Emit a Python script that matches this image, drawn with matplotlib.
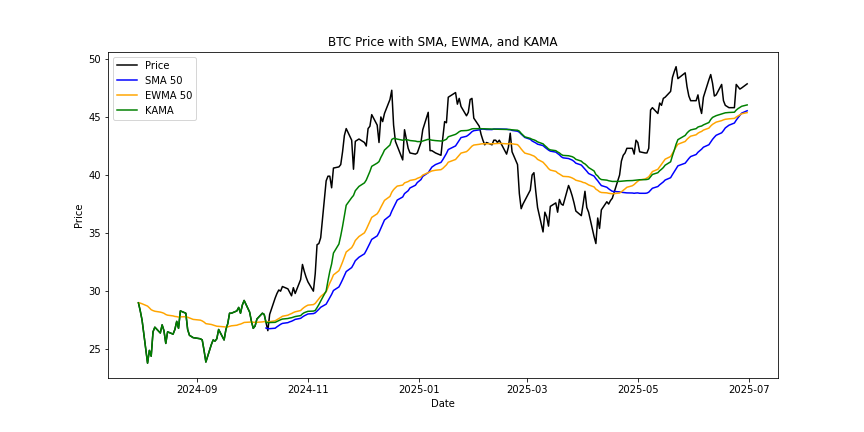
"""BTC price with moving averages"""

import numpy as np
import pandas as pd
import matplotlib
matplotlib.use('Agg')
import matplotlib.pyplot as plt

# NYSE closed days in the window
holidays = ['2024-09-02', '2024-11-28', '2024-12-25', '2025-01-01', '2025-01-09',
            '2025-01-20', '2025-02-17', '2025-04-18', '2025-05-26', '2025-06-19']

# closing prices, one list per month
price_jul = [29.0]
price_aug = [28.3, 27.5, 23.8, 24.9, 24.4, 26.5, 26.9, 26.4, 27.1, 26.6, 25.5,
             26.5, 26.3, 26.7, 27.4, 26.8, 28.3, 28.1, 26.7, 26.2, 26.1, 26.0]
price_sep = [25.9, 25.8, 24.9, 23.9, 25.4, 25.8, 25.7, 25.9, 26.7, 25.8,
             26.7, 27.2, 28.1, 28.1, 28.3, 28.6, 28.1, 28.8, 29.2, 28.2]
price_oct = [27.4, 26.8, 27.0, 27.6, 28.1, 28.0, 27.3, 26.6, 28.0, 29.4, 29.8, 30.1,
             30.0, 30.4, 30.2, 29.9, 29.6, 30.3, 29.8, 31.0, 32.3, 31.7, 31.2]
price_nov = [30.8, 30.0, 31.5, 34.0, 34.1, 34.6, 39.5, 39.9, 39.9, 38.9,
             40.6, 40.7, 40.9, 42.0, 43.4, 44.0, 43.0, 40.5, 42.9, 43.1]
price_dec = [42.8, 42.5, 44.0, 44.2, 45.2, 44.3, 42.8, 45.0, 44.6, 45.3, 46.5,
             47.3, 44.3, 42.9, 42.5, 41.3, 43.9, 42.3, 41.9, 41.8, 41.9]
price_jan = [42.8, 43.9, 45.4, 42.1, 42.1, 41.9, 41.7, 43.2, 44.6, 44.5,
             46.7, 47.1, 46.1, 46.6, 45.9, 45.1, 45.4, 46.5, 46.6, 44.9]
price_feb = [44.2, 43.5, 43.0, 42.6, 42.8, 42.6, 43.0, 43.0, 42.8, 43.0,
             41.8, 42.4, 43.6, 42.0, 40.9, 38.4, 37.1, 37.5, 37.8]
price_mar = [38.7, 40.0, 40.2, 38.6, 37.2, 35.1, 36.8, 36.4, 35.6, 37.3, 37.6,
             36.8, 37.9, 37.5, 37.4, 39.1, 38.7, 38.2, 37.6, 36.9, 36.5]
price_apr = [37.5, 38.6, 37.2, 36.8, 34.7, 34.1, 36.3, 35.4, 37.0, 37.7, 37.5,
             37.8, 38.0, 40.0, 41.2, 41.7, 41.9, 42.3, 42.3, 41.8, 43.0]
price_may = [42.8, 42.0, 41.9, 41.9, 42.3, 45.6, 45.8, 45.3, 46.2, 46.0, 46.6,
             46.7, 47.2, 48.4, 48.9, 49.33, 48.3, 48.8, 47.6, 46.8, 46.4]
price_jun = [46.4, 46.9, 45.9, 45.3, 46.7, 48.2, 48.65, 47.9, 46.8, 46.9,
             47.8, 46.4, 46.0, 45.8, 45.8, 47.8, 47.6, 47.4, 47.5, 47.85]

window = 50


def kama(series: pd.Series, n: int = 50, fast: int = 2, slow: int = 30) -> pd.Series:
    """Kaufman adaptive moving average, seeded with the price itself."""
    change = (series - series.shift(n)).abs()
    volatility = series.diff().abs().rolling(n).sum()
    er = change / volatility
    sc = (er * (2 / (fast + 1) - 2 / (slow + 1)) + 2 / (slow + 1)) ** 2
    out = series.copy()
    for i in range(n, len(series)):
        out.iloc[i] = out.iloc[i - 1] + sc.iloc[i] * (series.iloc[i] - out.iloc[i - 1])
    return out


values = (price_jul + price_aug + price_sep + price_oct + price_nov + price_dec
          + price_jan + price_feb + price_mar + price_apr + price_may + price_jun)
dates = pd.bdate_range('2024-07-31', '2025-06-30', freq='C', holidays=holidays)
price = pd.Series(values, index=dates[:len(values)])

sma = price.rolling(window).mean()
ewma = price.ewm(span=window, adjust=False).mean()
kama_line = kama(price, n=window)

fig, ax = plt.subplots(figsize=(12, 6), dpi=72)
fig.subplots_adjust(left=0.125, right=0.9, top=0.88, bottom=0.125)

ax.plot(price.index, price.values, label='Price', color='black')
ax.plot(sma.index, sma.values, label='SMA 50', color='blue')
ax.plot(ewma.index, ewma.values, label='EWMA 50', color='orange')
ax.plot(kama_line.index, kama_line.values, label='KAMA', color='green')

ax.set_title('BTC Price with SMA, EWMA, and KAMA')
ax.set_xlabel('Date')
ax.set_ylabel('Price')
ax.legend(loc='upper left')

fig.savefig('out.png', dpi=72)
